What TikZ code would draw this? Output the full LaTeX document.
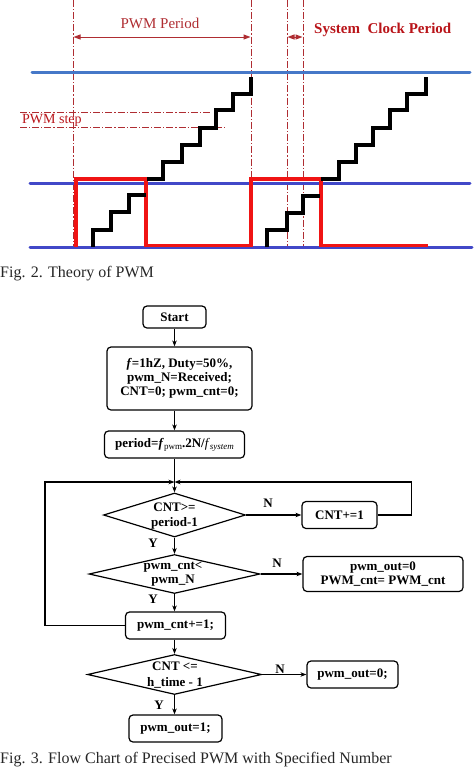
\documentclass[tikz,border=0pt]{standalone}
\usepackage{fontspec}
\setmainfont{Liberation Serif}
\usetikzlibrary{arrows.meta,shapes.geometric}
\definecolor{bluetop}{RGB}{70,120,200}
\definecolor{bluemid}{RGB}{65,72,200}
\definecolor{sigred}{RGB}{240,20,20}
\definecolor{dkred}{RGB}{175,45,50}
\definecolor{lblred}{RGB}{185,20,25}
\begin{document}
\begin{tikzpicture}[x=1pt,y=-1pt,
  dd/.style={dkred, line width=1pt, dash pattern=on 7pt off 2pt on 1.2pt off 2pt},
  rail/.style={line width=3pt, line cap=round},
  sig/.style={sigred, line width=3.2pt},
  stair/.style={black, line width=3.2pt},
  fbox/.style={draw, line width=1.2pt, rounded corners=4pt, inner sep=0pt, font=\fontsize{13}{14}\selectfont\bfseries, align=center},
  dia/.style={draw, diamond, line width=1.2pt, inner sep=0pt},
  ftxt/.style={font=\fontsize{13}{15}\selectfont\bfseries, align=center, inner sep=0pt},
  arr/.style={line width=1.2pt, -{Stealth[length=6pt,width=4.5pt]}},
  capt/.style={font=\fontsize{16}{18}\selectfont, anchor=west, inner sep=0pt, text=black!85}
]
\useasboundingbox (0,0) rectangle (474,769);

% ---------- Fig. 2 ----------
% dash-dot guides
\draw[dd] (73,0) -- (73,247);
\draw[dd] (251,0) -- (251,180);
\draw[dd] (287,0) -- (287,246);
\draw[dd] (303,0) -- (303,246);
\draw[dd] (20,112) -- (210,112);
\draw[dd] (20,127) -- (227,127);

% rails
\draw[rail, bluetop] (32,72) -- (470,72);
\draw[rail, bluemid] (30,183) -- (470,183);
\draw[rail, bluemid] (30,247.5) -- (472,247.5);

% PWM signal
\draw[sig] (76,247) -- (76,179) -- (146,179) -- (146,245.5) -- (251,245.5) -- (251,179) -- (321,179) -- (321,245.5) -- (428,245.5);

% staircases
\draw[stair] (147,179) -- (163,179) -- (163,162) -- (182,162) -- (182,145) -- (200,145) -- (200,128) -- (216,128) -- (216,110) -- (233,110) -- (233,94) -- (251,94) -- (251,77);
\draw[stair] (321,179) -- (339,179) -- (339,162) -- (356,162) -- (356,145) -- (373,145) -- (373,128) -- (390,128) -- (390,110) -- (407,110) -- (407,94) -- (426,94) -- (426,77);
\draw[stair] (93,247) -- (93,230) -- (111,230) -- (111,212) -- (129,212) -- (129,195) -- (146,195);
\draw[stair] (267,247) -- (267,230) -- (287,230) -- (287,213) -- (303,213) -- (303,196) -- (320,196);

% labels
\node[font=\fontsize{15}{17}\selectfont, text=dkred, inner sep=0pt] (lpp) at (160,23) {PWM Period};
\draw[dkred, line width=1pt, {Triangle[length=7pt,width=5pt]}-{Triangle[length=7pt,width=5pt]}] (73.5,37) -- (250.5,37);
\node[font=\fontsize{15}{17}\selectfont\bfseries, text=lblred, anchor=west, inner sep=0pt] (lsc) at (314,30) {System\ \ Clock Period};
\draw[dkred, line width=1pt, {Triangle[length=7pt,width=5pt]}-{Triangle[length=7pt,width=5pt]}] (287.5,37) -- (302.5,37);
\node[font=\fontsize{14}{16}\selectfont, text=lblred, anchor=west, inner sep=0pt] (lps) at (22,120) {PWM step};

\node[capt] (cap2) at (0,274) {Fig. 2. Theory of PWM};

% ---------- Fig. 3 ----------
\node[fbox, minimum width=63pt, minimum height=22pt] (start) at (174.5,317) {Start};
\node[fbox, minimum width=145pt, minimum height=63pt] (init) at (179.5,378.5) {\textit{f}=1hZ, Duty=50\%,\\pwm\_N=Received;\\CNT=0; pwm\_cnt=0;};
\node[fbox, minimum width=140pt, minimum height=27pt] (per) at (174.5,444.5) {period=\textit{f}\raisebox{-0.35ex}{\fontsize{9}{9}\selectfont\mdseries pwm}.2N/\textit{\mdseries f}\raisebox{-0.35ex}{\fontsize{9}{9}\selectfont\mdseries\itshape system}};
\node[dia, minimum width=142pt, minimum height=44pt] (d1) at (174.5,515) {};
\node[ftxt] (t1) at (174.5,516) {CNT>=\\period-1};
\node[fbox, minimum width=75pt, minimum height=27pt] (cnt1) at (339.5,515) {CNT+=1};
\node[dia, minimum width=171pt, minimum height=39pt] (d2) at (174.5,574) {};
\node[ftxt, font=\fontsize{13}{14.5}\selectfont\bfseries] (t2) at (173,574) {pwm\_cnt<\\pwm\_N};
\node[fbox, minimum width=160pt, minimum height=35pt] (o0a) at (383,574) {pwm\_out=0\\PWM\_cnt= PWM\_cnt};
\node[fbox, minimum width=100pt, minimum height=27pt] (pc) at (175.5,625.5) {pwm\_cnt+=1;};
\node[dia, minimum width=174pt, minimum height=40pt] (d3) at (174.5,674.5) {};
\node[ftxt, font=\fontsize{13}{15.5}\selectfont\bfseries] (t3) at (175,675) {CNT <=\\h\_time - 1};
\node[fbox, minimum width=91pt, minimum height=27pt] (o0) at (352.5,674.5) {pwm\_out=0;};
\node[fbox, minimum width=93pt, minimum height=27pt] (o1) at (175.5,728.5) {pwm\_out=1;};

\coordinate (j) at (174.5,482);

\draw[arr] (start.south) -- (start.south |- init.north);
\draw[arr] (per.north |- init.south) -- (per.north);
\draw[arr] (per.south) -- (d1.north);
\draw[arr] (d1.east) -- (cnt1.west);
\draw[arr] (cnt1.east) -- ++(34,0) |- (j);
\draw[arr] (d1.south) -- (d2.north);
\draw[arr] (d2.east) -- (o0a.west);
\draw[arr] (d2.south) -- (d2.south |- pc.north);
\draw[arr] (pc.west) -- ++(-80,0) |- (j);
\draw[arr] (d3.north |- pc.south) -- (d3.north);
\draw[arr] (d3.east) -- (o0.west);
\draw[arr] (d3.south) -- (d3.south |- o1.north);

\node[ftxt] (n1) at (268,503) {N};
\node[ftxt] (y1) at (153,543) {Y};
\node[ftxt] (n2) at (277,563) {N};
\node[ftxt] (y2) at (153,599) {Y};
\node[ftxt] (n3) at (280,669) {N};
\node[ftxt] (y3) at (159,705) {Y};

\node[capt] (cap3) at (0,760) {Fig. 3. Flow Chart of Precised PWM with Specified Number};
\end{tikzpicture}
\end{document}
